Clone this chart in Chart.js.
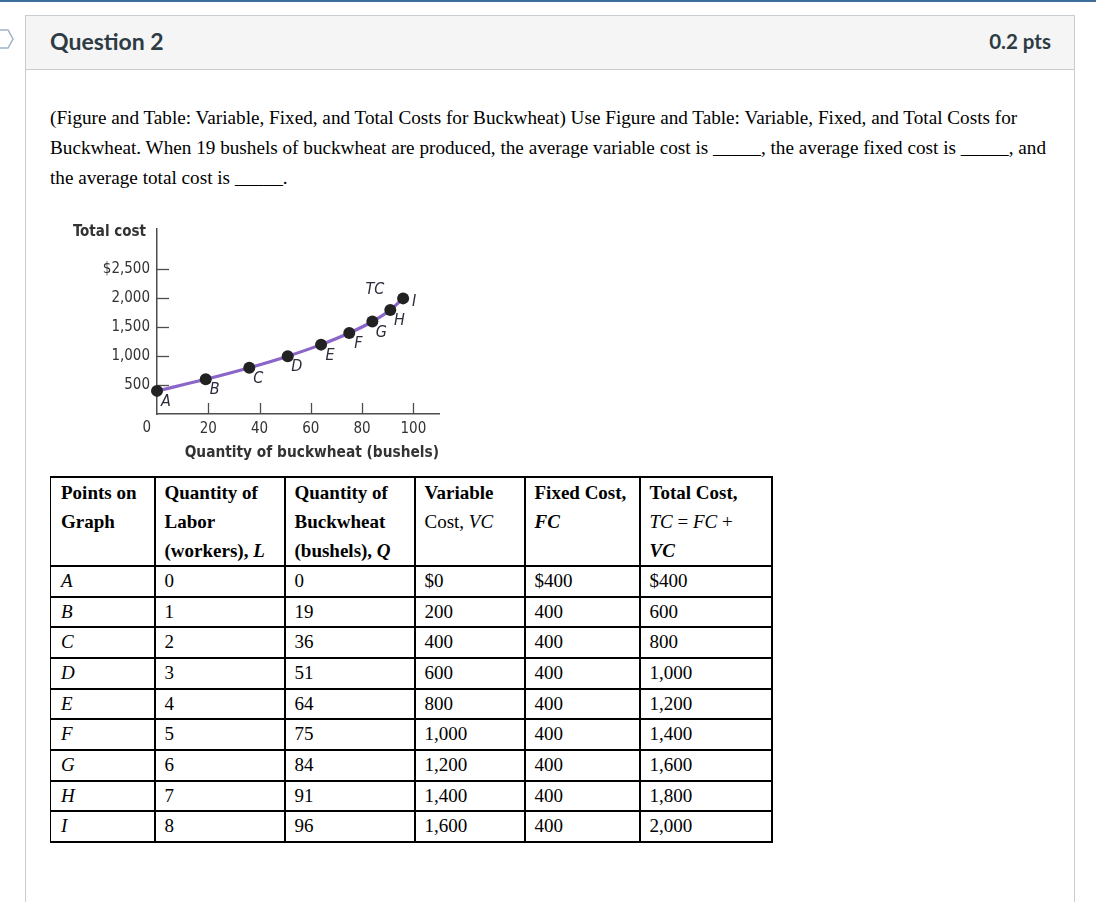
<!DOCTYPE html>
<html>
<head>
<meta charset="utf-8">
<title>Question 2</title>
<script src="https://cdn.jsdelivr.net/npm/chart.js@4.4.1/dist/chart.umd.min.js"></script>
<style>
  body { margin: 0; width: 1096px; height: 902px; overflow: hidden; position: relative; background: #fff; font-family: "Liberation Serif", "Times New Roman", serif; color: #000; }
  .topbar { position: absolute; left: 0; top: 0; width: 1096px; height: 2px; background: #3f6d99; }
  .flag { position: absolute; left: -12px; top: 28px; }
  .box { position: absolute; left: 25px; top: 15px; width: 1048px; height: 920px; border: 1px solid #c7cdd1; }
  .head { height: 53px; line-height: 50px; background: #f5f5f5; border-bottom: 1px solid #c7cdd1; font-family: Lato, sans-serif; color: #2d3b45; padding: 0 23px 0 24px; }
  .head .q { font-weight: 700; font-size: 23px; float: left; }
  .head .pts { font-weight: 700; font-size: 20.5px; float: right; }
  .text { position: absolute; left: 50px; top: 103px; width: 1003px; font-size: 19.2px; line-height: 30px; }
  .chartbox { position: absolute; left: 60px; top: 213px; width: 400px; height: 252px; }
  table { position: absolute; left: 50px; top: 476px; border-collapse: collapse; table-layout: fixed; width: 721px; font-size: 19px; }
  td { border: 2px solid #000; padding: 0 9px; vertical-align: top; overflow: hidden; white-space: nowrap; }
  td:first-child { border-left: 1px solid #000; padding-left: 10px; }
  thead td { font-weight: 700; line-height: 29px; }
  thead .n { font-weight: 400; }
  tbody td { line-height: 28.67px; }
</style>
</head>
<body>
<div class="topbar"></div>
<svg class="flag" width="28" height="22"><polygon points="1,2 20,2 25,11 20,20 1,20" fill="#fff" stroke="#9db2c6" stroke-width="1.5"/></svg>
<div class="box">
  <div class="head"><span class="q">Question 2</span><span class="pts">0.2 pts</span></div>
</div>
<div class="text">(Figure and Table: Variable, Fixed, and Total Costs for Buckwheat) Use Figure and Table: Variable, Fixed, and Total Costs for Buckwheat. When 19 bushels of buckwheat are produced, the average variable cost is _____, the average fixed cost is _____, and the average total cost is _____.</div>
<div class="chartbox"><canvas id="tcChart" width="400" height="252"></canvas></div>
<table id="costTable">
  <colgroup>
    <col style="width:104px"><col style="width:130px"><col style="width:130px">
    <col style="width:110px"><col style="width:115px"><col style="width:132px">
  </colgroup>
  <thead>
    <tr>
      <td>Points on<br>Graph</td>
      <td>Quantity of<br>Labor<br>(workers), <i>L</i></td>
      <td>Quantity of<br>Buckwheat<br>(bushels), <i>Q</i></td>
      <td>Variable<br><span class="n">Cost, <i>VC</i></span></td>
      <td>Fixed Cost,<br><i>FC</i></td>
      <td>Total Cost,<br><span class="n"><i>TC</i> = <i>FC</i> +</span><br><i>VC</i></td>
    </tr>
  </thead>
  <tbody></tbody>
</table>
<script>
const pointNames = ['A', 'B', 'C', 'D', 'E', 'F', 'G', 'H', 'I'];
const labor = [0, 1, 2, 3, 4, 5, 6, 7, 8];
const quantity = [0, 19, 36, 51, 64, 75, 84, 91, 96];
const variableCost = [0, 200, 400, 600, 800, 1000, 1200, 1400, 1600];
const fixedCost = [400, 400, 400, 400, 400, 400, 400, 400, 400];
const totalCost = [400, 600, 800, 1000, 1200, 1400, 1600, 1800, 2000];
const xTicks = [0, 20, 40, 60, 80, 100];
const yTicks = [500, 1000, 1500, 2000, 2500];

const axisColor = '#4d4d4d';
const textColor = '#333333';
const chartFont = '"DejaVu Sans Condensed", "Liberation Sans Narrow", Roboto, sans-serif';

// table rows
function fmt(v, i) {
    return (i === 0 ? '$' : '') + v.toLocaleString('en-US');
}
const tbody = document.querySelector('#costTable tbody');
pointNames.forEach((name, i) => {
    const tr = document.createElement('tr');
    tr.innerHTML = `<td><i>${name}</i></td><td>${labor[i]}</td><td>${quantity[i]}</td>` +
        `<td>${fmt(variableCost[i], i)}</td><td>${fmt(fixedCost[i], i)}</td><td>${fmt(totalCost[i], i)}</td>`;
    tbody.appendChild(tr);
});

// tick marks point inward, letters next to the points, axis captions
const annotate = {
    id: 'annotate',
    beforeDatasetsDraw(chart) {
        const {ctx, chartArea, scales: {x, y}} = chart;
        ctx.save();
        ctx.strokeStyle = axisColor;
        ctx.lineWidth = 1.3;
        yTicks.forEach(v => {
            const py = Math.round(y.getPixelForValue(v)) + 0.5;
            ctx.beginPath();
            ctx.moveTo(chartArea.left, py);
            ctx.lineTo(chartArea.left + 12, py);
            ctx.stroke();
        });
        xTicks.filter(v => v > 0).forEach(v => {
            const px = Math.round(x.getPixelForValue(v)) + 0.5;
            ctx.beginPath();
            ctx.moveTo(px, chartArea.bottom);
            ctx.lineTo(px, chartArea.bottom - 11);
            ctx.stroke();
        });
        ctx.restore();
    },
    afterDraw(chart) {
        const {ctx, chartArea, scales: {x, y}} = chart;
        const meta = chart.getDatasetMeta(0);
        ctx.save();
        ctx.fillStyle = '#2b2b3a';
        ctx.font = 'italic 16px ' + chartFont;
        ctx.textAlign = 'center';
        ctx.textBaseline = 'middle';
        meta.data.forEach((pt, i) => {
            const last = i === meta.data.length - 1;
            ctx.fillText(pointNames[i], pt.x + (last ? 11 : 9), pt.y + (last ? 3 : 11));
        });
        ctx.fillText('TC', x.getPixelForValue(85), y.getPixelForValue(2150));

        ctx.fillStyle = textColor;
        ctx.font = '15px ' + chartFont;
        ctx.textAlign = 'right';
        ctx.fillText('0', chartArea.left - 6, chartArea.bottom + 14);

        ctx.font = 'bold 15px ' + chartFont;
        ctx.fillText('Total cost', chartArea.left - 11, chartArea.top + 3);
        ctx.restore();
    }
};

const chart = new Chart(document.getElementById('tcChart'), {
    type: 'line',
    data: {
        labels: pointNames,
        datasets: [{
            label: 'TC',
            data: quantity.map((q, i) => ({x: q, y: totalCost[i]})),
            borderColor: '#8a66c8',
            borderWidth: 3.2,
            cubicInterpolationMode: 'monotone',
            pointRadius: 6,
            pointBackgroundColor: '#222222',
            pointBorderWidth: 0,
            clip: false
        }]
    },
    options: {
        responsive: false,
        animation: false,
        events: [],
        layout: {padding: {left: 0, top: 10, right: 21, bottom: 0}},
        plugins: {legend: {display: false}, tooltip: {enabled: false}},
        scales: {
            x: {
                type: 'linear',
                min: 0,
                max: 110,
                afterBuildTicks: s => { s.ticks = xTicks.map(v => ({value: v})); },
                afterFit: s => { s.height = 51; },
                grid: {display: false, drawTicks: false},
                border: {display: true, color: axisColor, width: 1.5},
                ticks: {
                    padding: 6,
                    color: textColor,
                    font: {family: chartFont, size: 15},
                    maxRotation: 0,
                    callback: v => v === 0 ? '' : v
                },
                title: {
                    display: true,
                    text: 'Quantity of buckwheat (bushels)',
                    align: 'end',
                    color: textColor,
                    font: {family: chartFont, size: 15.3, weight: 'bold'},
                    padding: {top: 0, bottom: 3}
                }
            },
            y: {
                min: 0,
                max: 3200,
                afterBuildTicks: s => { s.ticks = yTicks.map(v => ({value: v})); },
                afterFit: s => { s.width = 97; },
                grid: {display: false, drawTicks: false},
                border: {display: true, color: axisColor, width: 1.5},
                ticks: {
                    padding: 7,
                    color: textColor,
                    font: {family: chartFont, size: 15},
                    callback: v => (v === 2500 ? '$' : '') + v.toLocaleString('en-US')
                }
            }
        }
    },
    plugins: [annotate]
});
</script>
</body>
</html>
